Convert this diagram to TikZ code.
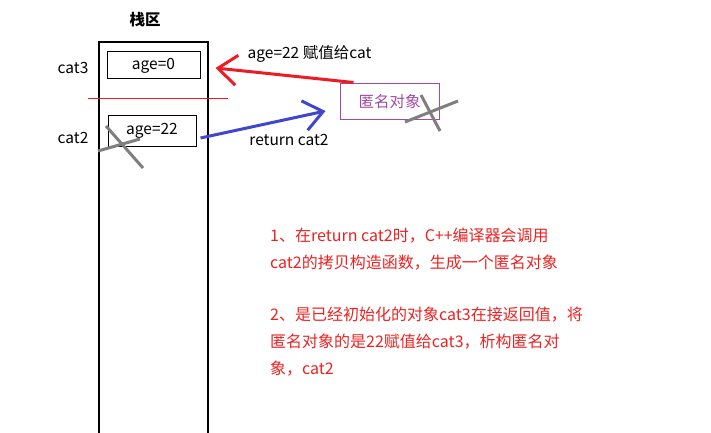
\documentclass[tikz,border=0pt]{standalone}
\usepackage{fontspec}
\setmainfont{Noto Sans CJK SC}
\usetikzlibrary{arrows.meta,positioning}
\definecolor{cred}{RGB}{237, 28, 36}
\definecolor{cblue}{RGB}{63, 72, 204}
\definecolor{cpurple}{RGB}{163, 73, 164}
\definecolor{cgray}{RGB}{127, 127, 127}
\definecolor{cnote}{RGB}{236, 34, 34}
\tikzset{
	nodes={font={\fontsize{15.5}{27}\selectfont}},%
	cell/.style={%
			draw,%
			rectangle,%
			line width=1pt,%
			inner sep=0,%
			minimum width=93pt,%
			minimum height=27pt},%
	anonbox/.style={%
			draw=cpurple,%
			text=cpurple,%
			rectangle,%
			line width=1pt,%
			inner sep=0,%
			minimum width=99pt,%
			minimum height=35pt},%
	bigarrow/.style={%
			line width=3pt,%
			-{Straight Barb[length=19pt, width=30pt]}},%
	crossmark/.style={%
			draw=cgray,%
			line width=3pt},%
}

\begin{document}
\begin{tikzpicture}[x=1pt, y=-1pt]
	\useasboundingbox (0,0) rectangle (711,433);

	% stack area
	\node[font={\fontsize{15.5}{18}\selectfont\bfseries}] (title) at (145,20) {栈区};
	\draw[line width=1.3pt] (99,433) |- (208,42) -- (208,433);

	\node[cell] (age0) at (153.5,65.5) {age=0};
	\node[cell, minimum width=88pt, minimum height=31pt] (age22) at (152,130.5) {age=22};
	\node (cat3) at (73,68) {cat3};
	\node (cat2) at (73,138) {cat2};
	\draw[cred, line width=0.8pt] (88,98) -- (228,98);

	% anonymous object
	\node[anonbox] (anon) at (389.5,101.5) {匿名对象};

	\coordinate (redstart) at ([xshift=14pt, yshift=1pt]anon.north west);
	\coordinate (redend) at ([xshift=15pt, yshift=-2.5pt]age0.east);
	\coordinate (bluestart) at ([xshift=4pt, yshift=-7.5pt]age22.east);
	\coordinate (blueend) at ([xshift=-14pt, yshift=-9.5pt]anon.west);

	\draw[bigarrow, cred] (redstart) -- (redend);
	\draw[bigarrow, cblue] (bluestart) -- (blueend);

	\node (assign) at (309.5,54) {age=22 赋值给cat};
	\node (ret) at (289,140) {return cat2};

	% crossed out
	\draw[crossmark] (106,126) -- (143,168);
	\draw[crossmark] (98,151) -- (140,139);
	\draw[crossmark] (405,122) -- (458,101);
	\draw[crossmark] (421,95) -- (440,131);

	% notes
	\node[text=cnote, align=left, anchor=north west, inner sep=0,
		font={\fontsize{16}{27}\selectfont}] (notes) at (270,228) {%
		1、在return cat2时，C++编译器会调用\\
		cat2的拷贝构造函数，生成一个匿名对象\\[25pt]
		2、是已经初始化的对象cat3在接返回值，将\\
		匿名对象的是22赋值给cat3，析构匿名对\\
		象，cat2};
\end{tikzpicture}
\end{document}
